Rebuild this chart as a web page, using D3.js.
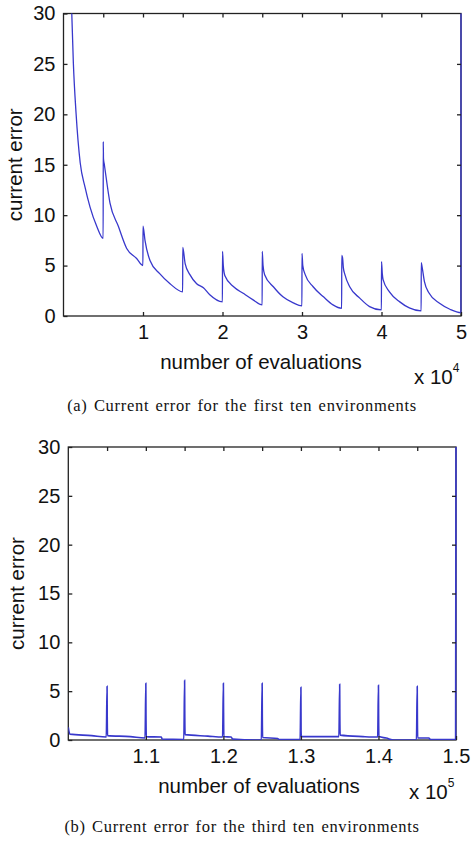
<!DOCTYPE html>
<html>
<head>
<meta charset="utf-8">
<script src="https://cdn.jsdelivr.net/npm/d3@7"></script>
<style>
  body { margin: 0; background: #fff; }
  svg { display: block; }
  .tick text { font-family: "Liberation Sans", Arial, sans-serif; font-size: 20px; fill: #111; }
  .lab { font-family: "Liberation Sans", Arial, sans-serif; font-size: 20.5px; fill: #111; }
  .cap { font-family: "Liberation Serif", "Times New Roman", serif; font-size: 16.5px; fill: #111; letter-spacing: 0.7px; word-spacing: 1.5px; }
</style>
</head>
<body>
<svg id="fig" width="474" height="862"></svg>
<script>
// (a) first ten environments, evaluations in units of 1e4
const evalsA = [0.10, 0.124, 0.158, 0.21, 0.27, 0.334, 0.418, 0.499,
  0.5, 0.503, 0.514, 0.585, 0.69, 0.795, 0.92, 0.999,
  1.0, 1.025, 1.088, 1.21, 1.34, 1.499,
  1.5, 1.53, 1.59, 1.675, 1.76, 1.84, 1.999,
  2.0, 2.01, 2.03, 2.14, 2.26, 2.385, 2.499,
  2.5, 2.51, 2.53, 2.64, 2.76, 2.89, 2.999,
  3.0, 3.01, 3.04, 3.14, 3.27, 3.39, 3.499,
  3.5, 3.51, 3.52, 3.54, 3.6, 3.73, 3.85, 3.999,
  4.0, 4.01, 4.02, 4.1, 4.23, 4.35, 4.499,
  4.5, 4.51, 4.54, 4.6, 4.73, 4.86, 4.999,
  5.0];
const errorA = [31, 25.1, 20.1, 15.2, 12.8, 10.8, 8.9, 7.7,
  17.3, 15.6, 15.0, 11.2, 8.9, 6.7, 5.7, 5.0,
  8.9, 7.5, 5.5, 4.2, 3.2, 2.4,
  6.8, 5.2, 4.1, 3.2, 2.8, 2.1, 1.4,
  6.4, 5.0, 4.0, 2.9, 2.25, 1.6, 1.1,
  6.4, 5.0, 4.1, 2.9, 1.9, 1.3, 1.0,
  6.2, 5.0, 4.1, 2.9, 1.9, 1.1, 0.76,
  6.0, 5.8, 4.8, 4.1, 2.9, 1.75, 0.93, 0.6,
  5.4, 4.2, 3.6, 2.4, 1.4, 0.8, 0.5,
  5.3, 4.9, 3.4, 2.25, 1.26, 0.67, 0.33,
  31];

// (b) third ten environments, evaluations in units of 1e5
const evalsB = [1.0, 1.002, 1.03, 1.049,
  1.05, 1.0502, 1.0506, 1.08, 1.099,
  1.1, 1.1002, 1.1006, 1.12, 1.121, 1.149,
  1.15, 1.1502, 1.1506, 1.18, 1.199,
  1.2, 1.2002, 1.2006, 1.21, 1.212, 1.249,
  1.25, 1.2502, 1.2506, 1.27, 1.272, 1.299,
  1.3, 1.3002, 1.3006, 1.349,
  1.35, 1.3502, 1.3506, 1.38, 1.399,
  1.4, 1.4002, 1.4006, 1.41, 1.42, 1.449,
  1.45, 1.4502, 1.4506, 1.465, 1.467, 1.4995,
  1.5];
const errorB = [1.3, 0.6, 0.45, 0.3,
  5.5, 2.5, 0.45, 0.35, 0.2,
  5.8, 2.5, 0.35, 0.3, 0.1, 0.05,
  6.1, 3.0, 0.55, 0.4, 0.3,
  5.8, 3.5, 0.35, 0.3, 0.1, 0.0,
  5.8, 2.5, 0.25, 0.15, 0.05, 0.05,
  5.4, 1.0, 0.35, 0.35,
  5.7, 2.5, 0.5, 0.35, 0.3,
  5.6, 2.5, 0.35, 0.2, 0.0, 0.0,
  5.5, 2.5, 0.2, 0.2, 0.05, 0.05,
  31];

const yTicks = [0, 5, 10, 15, 20, 25, 30];
const xTopA = [0.5, 1, 1.5, 2, 2.5, 3, 3.5, 4, 4.5];
const xBotA = [1, 2, 3, 4, 5];
const xTopB = [1.05, 1.1, 1.15, 1.2, 1.25, 1.3, 1.35, 1.4, 1.45];
const xBotB = [1.1, 1.2, 1.3, 1.4, 1.5];

const svg = d3.select('#fig');

function panel(o) {
    let x = d3.scaleLinear().domain(o.xDomain).range([o.left, o.right]),
        y = d3.scaleLinear().domain([0, 30]).range([o.bottom, o.top]),
        g = svg.append('g');

    // 테두리
    g.append('rect')
        .attr('x', o.left).attr('y', o.top)
        .attr('width', o.right - o.left).attr('height', o.bottom - o.top)
        .attr('fill', 'none').attr('stroke', '#222').attr('stroke-width', 1.3);

    let clip = 'clip-' + o.id;
    g.append('clipPath').attr('id', clip)
        .append('rect')
        .attr('x', o.left).attr('y', o.top)
        .attr('width', o.right - o.left + 1).attr('height', o.bottom - o.top);

    let pts = o.xs.map((v, i) => ({ x: v, y: o.ys[i] }));
    g.append('path')
        .datum(pts)
        .attr('clip-path', `url(#${clip})`)
        .attr('d', d3.line().curve(d3.curveMonotoneX).x(d => x(d.x)).y(d => y(d.y)))
        .attr('fill', 'none')
        .attr('stroke', '#3838cc')
        .attr('stroke-width', o.lw);

    // 축 (MATLAB처럼 안쪽 눈금)
    let fmt = d => d3.format(o.fmt)(d);
    g.append('g').attr('transform', `translate(0,${o.bottom})`)
        .call(d3.axisBottom(x).tickValues(o.xBot).tickFormat(fmt).tickSizeInner(-4).tickSizeOuter(0).tickPadding(9));
    g.append('g').attr('transform', `translate(0,${o.top})`)
        .call(d3.axisTop(x).tickValues(o.xTop).tickFormat('').tickSizeInner(-4).tickSizeOuter(0));
    g.append('g').attr('transform', `translate(${o.left},0)`)
        .call(d3.axisLeft(y).tickValues(yTicks).tickSizeInner(-4).tickSizeOuter(0).tickPadding(8));
    g.append('g').attr('transform', `translate(${o.right},0)`)
        .call(d3.axisRight(y).tickValues(yTicks.slice(1, -1)).tickFormat('').tickSizeInner(-4).tickSizeOuter(0));
    g.selectAll('.domain').remove();
    g.selectAll('.tick line').attr('stroke', '#222').attr('stroke-width', 1.3);

    g.append('text').attr('class', 'lab')
        .attr('transform', `translate(${o.yLabX},${(o.top + o.bottom) / 2}) rotate(-90)`)
        .attr('text-anchor', 'middle')
        .text('current error');
    g.append('text').attr('class', 'lab')
        .attr('x', o.xLabX).attr('y', o.xLabY)
        .attr('text-anchor', 'middle')
        .text('number of evaluations');
    let ex = g.append('text').attr('class', 'lab')
        .attr('x', o.expX).attr('y', o.expY);
    ex.append('tspan').text('x 10');
    ex.append('tspan').attr('dy', -12).style('font-size', '12px').text(o.exp);

    g.append('text').attr('class', 'cap')
        .attr('x', o.capX).attr('y', o.capY)
        .attr('text-anchor', 'middle')
        .text(o.caption);
}

panel({
    id: 'a', left: 63.5, right: 461, top: 13.5, bottom: 316, lw: 1.3,
    xDomain: [0, 5], xs: evalsA, ys: errorA, xTop: xTopA, xBot: xBotA, fmt: 'd',
    yLabX: 22, xLabX: 261, xLabY: 369, expX: 414, expY: 384, exp: '4',
    caption: '(a) Current error for the first ten environments', capX: 242, capY: 411
});
panel({
    id: 'b', left: 68.3, right: 456, top: 447, bottom: 740, lw: 1.6,
    xDomain: [1.0, 1.5], xs: evalsB, ys: errorB, xTop: xTopB, xBot: xBotB, fmt: '.1f',
    yLabX: 24, xLabX: 259, xLabY: 793, expX: 409, expY: 799, exp: '5',
    caption: '(b) Current error for the third ten environments', capX: 242, capY: 832
});
</script>
</body>
</html>
